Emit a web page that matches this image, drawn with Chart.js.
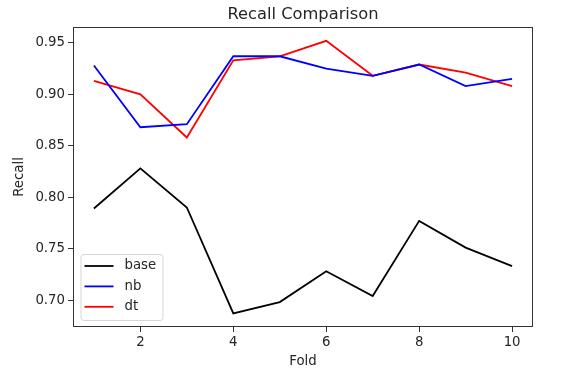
<!DOCTYPE html>
<html>
<head>
<meta charset="utf-8">
<script src="https://cdn.jsdelivr.net/npm/chart.js@4/dist/chart.umd.min.js"></script>
<style>
  html, body { margin: 0; padding: 0; background: #fff; }
  #wrap { width: 585px; height: 378px; position: relative; }
</style>
</head>
<body>
<div id="wrap"><canvas id="c" width="585" height="378"></canvas></div>
<script>
const folds = [1, 2, 3, 4, 5, 6, 7, 8, 9, 10];
const baseRecall = [0.789, 0.828, 0.790, 0.687, 0.698, 0.728, 0.704, 0.777, 0.751, 0.733];
const nbRecall = [0.928, 0.868, 0.871, 0.937, 0.937, 0.925, 0.918, 0.929, 0.908, 0.915];
const dtRecall = [0.913, 0.900, 0.858, 0.933, 0.937, 0.952, 0.918, 0.929, 0.921, 0.908];
const xTickValues = [2, 4, 6, 8, 10];
const yTickValues = [0.70, 0.75, 0.80, 0.85, 0.90, 0.95];
const seriesNames = ['base', 'nb', 'dt'];

const FONT = 'DejaVu Sans';
const TXT = '#262626';

function pts(vals) { return folds.map((f, i) => ({ x: f, y: vals[i] })); }

const centerTitle = {
  id: 'centerTitle',
  afterLayout(chart) {
    const t = chart.titleBlock;
    if (t) {
      t.left = chart.chartArea.left;
      t.right = chart.chartArea.right;
      t.width = t.right - t.left;
    }
  }
};

const frame = {
  id: 'frame',
  afterDatasetsDraw(chart) {
    const { ctx, chartArea: a } = chart;
    ctx.save();
    ctx.strokeStyle = '#333';
    ctx.lineWidth = 1;
    ctx.strokeRect(Math.round(a.left) + 0.5, Math.round(a.top) + 0.5,
      Math.round(a.right - a.left) - 1, Math.round(a.bottom - a.top) - 1);
    ctx.restore();
  }
};

const insideLegend = {
  id: 'insideLegend',
  afterDraw(chart) {
    const { ctx, chartArea: a } = chart;
    const ds = chart.data.datasets;
    const x0 = a.left + 7.5, w = 82, rowH = 20.4, h = 66;
    const y0 = a.bottom - 7 - h;
    ctx.save();
    ctx.globalAlpha = 0.8;
    ctx.fillStyle = '#fff';
    ctx.strokeStyle = '#cccccc';
    ctx.lineWidth = 1;
    ctx.beginPath();
    ctx.roundRect(x0 + 0.5, y0 + 0.5, w, h, 3);
    ctx.fill();
    ctx.stroke();
    ctx.globalAlpha = 1;
    ctx.font = '13.3px "' + FONT + '"';
    ctx.textBaseline = 'middle';
    ctx.textAlign = 'left';
    ds.forEach((d, i) => {
      const cy = y0 + 12 + i * rowH;
      ctx.strokeStyle = d.borderColor;
      ctx.lineWidth = 1.8;
      ctx.beginPath();
      ctx.moveTo(x0 + 4, cy);
      ctx.lineTo(x0 + 33, cy);
      ctx.stroke();
      ctx.fillStyle = TXT;
      ctx.fillText(d.label, x0 + 44, cy);
    });
    ctx.restore();
  }
};

new Chart(document.getElementById('c'), {
  type: 'line',
  data: {
    datasets: [
      { label: seriesNames[0], data: pts(baseRecall), borderColor: '#000000' },
      { label: seriesNames[1], data: pts(nbRecall), borderColor: '#0000ff' },
      { label: seriesNames[2], data: pts(dtRecall), borderColor: '#ff0000' }
    ].map(d => Object.assign(d, { borderWidth: 1.8, pointRadius: 0, tension: 0, fill: false }))
  },
  options: {
    responsive: false,
    animation: false,
    layout: { padding: { left: 0, right: 52, top: 0, bottom: 0 } },
    plugins: {
      legend: { display: false },
      tooltip: { enabled: false },
      title: {
        display: true,
        text: 'Recall Comparison',
        color: TXT,
        font: { family: FONT, size: 16.3, weight: 'normal' },
        padding: { top: 5.3, bottom: 2.1 }
      }
    },
    scales: {
      x: {
        type: 'linear',
        min: 0.55, max: 10.45,
        border: { display: false },
        grid: { display: true, drawOnChartArea: false, drawTicks: true, tickLength: 5, color: '#333' },
        ticks: { color: TXT, font: { family: FONT, size: 13.3 }, padding: 3, maxRotation: 0, autoSkip: false },
        afterBuildTicks(s) { s.ticks = xTickValues.map(v => ({ value: v })); },
        afterFit(s) { s.height = 51; },
        title: { display: true, text: 'Fold', color: TXT, font: { family: FONT, size: 13.3 }, padding: { top: 4, bottom: 8 } }
      },
      y: {
        type: 'linear',
        min: 0.6738, max: 0.9655,
        border: { display: false },
        grid: { display: true, drawOnChartArea: false, drawTicks: true, tickLength: 5, color: '#333' },
        ticks: { color: TXT, font: { family: FONT, size: 13.3 }, padding: 3, autoSkip: false,
          callback: v => Number(v).toFixed(2) },
        afterBuildTicks(s) { s.ticks = yTickValues.map(v => ({ value: v })); },
        afterFit(s) { s.width = 73; },
        title: { display: true, text: 'Recall', color: TXT, font: { family: FONT, size: 13.3 }, padding: { top: 12, bottom: 4 } }
      }
    }
  },
  plugins: [centerTitle, frame, insideLegend]
});
</script>
</body>
</html>
